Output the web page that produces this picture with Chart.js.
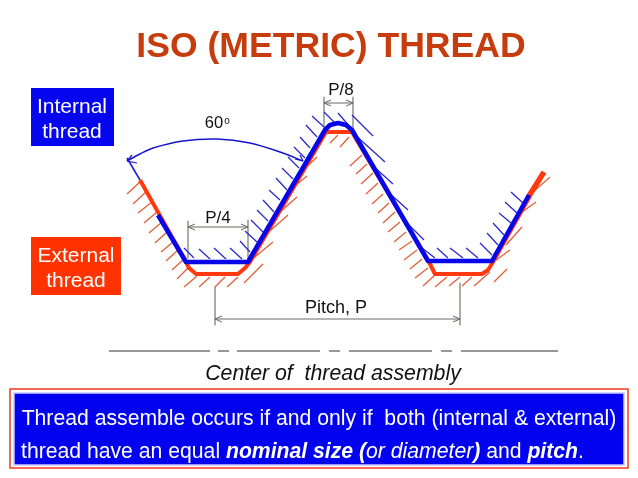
<!DOCTYPE html>
<html><head><meta charset="utf-8">
<style>html,body{margin:0;padding:0;background:#fff}canvas{display:block}</style>
<script src="https://cdn.jsdelivr.net/npm/chart.js@4"></script>
</head><body><canvas id="c" width="638" height="478"></canvas>
<script>
const titleText = "ISO (METRIC) THREAD";
const internalProfile = [[158,215],[186,262],[248,262],[325,130],[330,125],[338,123],[346,125],[352,130],[428,261],[492,261],[529,195]];
const externalProfile = [[140,180],[186,262],[189,268],[196,274],[238,274],[245,268],[250,262],[326,132],[352,132],[429,262],[435,274],[482,274],[488,270],[493,262],[530,196]];
const externalTip = [[529,196],[544,172]];
const leadLine = [[127,158],[140,180]];
const angleArc = [[127,161],[140,154],[153,148],[183,141],[217,139],[250,143],[280,152],[303,161]];
const angleArrows = [[137,163,127,161],[132,155,127,161],[295,159,303,161],[300,155,303,161]];
const internalHatches = [
 [184,248,194,258],[199,249,210,259],[214,248,226,259],[230,248,242,259],
 [240,241,250,252],[245,231,257,242],[251,220,263,232],[257,210,268,221],[263,200,274,212],[269,190,280,200],[276,178,287,190],[282,168,293,179],[288,157,299,168],[294,147,305,158],[300,137,310,148],[306,125,317,137],[312,116,324,127],
 [324,112,335,123],[338,113,350,127],[352,115,373,136],[353,133,385,162],[372,165,393,184],[388,192,408,210],[407,223,424,240],[422,248,435,258],
 [437,248,448,258],[450,248,463,258],[466,248,478,258],[480,243,492,255],[487,233,498,245],[493,223,504,235],[499,213,511,223],[505,202,517,213],[511,192,523,203]
];
const externalHatches = [
 [127,194,141,181],[133,204,146,192],[138,213,152,202],[144,223,157,212],[149,233,162,222],[155,243,167,232],[161,252,173,242],[166,261,178,250],[172,270,184,259],[177,279,188,268],
 [184,287,197,276],[199,287,210,277],[215,287,225,277],[227,287,238,277],
 [244,283,263,264],[250,261,273,242],[263,237,288,215],[280,212,297,197],[290,190,307,176],[300,173,317,157],
 [330,143,338,135],[340,147,349,137],
 [350,166,362,155],[356,174,367,164],[361,184,373,173],[366,194,378,183],[372,204,383,194],[378,213,389,203],[383,223,395,212],[388,232,400,222],[394,242,406,232],[399,250,412,241],[404,260,417,250],[410,269,422,259],[415,278,428,268],[423,286,435,275],
 [435,287,447,277],[449,286,460,277],[462,286,472,277],[474,286,490,272],[494,282,507,269],[492,263,510,250],[506,245,522,227],[518,215,536,202],[532,193,550,177]
];
const dimensionLines = [
 [188,221,188,258],[248,220,248,258],[188,227,248,227],
 [324,97,324,130],[353,97,353,130],[324,103,353,103],
 [215,287,215,325],[460,283,460,325],[215,319,460,319]
];
const dimensionArrows = [
 [195,224,188,227],[195,230,188,227],[241,224,248,227],[241,230,248,227],
 [331,100,324,103],[331,106,324,103],[346,100,353,103],[346,106,353,103],
 [222,316,215,319],[222,322,215,319],[453,316,460,319],[453,322,460,319]
];
const centerLineSegments = [[109,351,210,351],[218,351,229,351],[237,351,320,351],[329,351,340,351],[349,351,432,351],[441,351,452,351],[461,351,558,351]];
const boxes = [
 {x0:10,y0:389,x1:628,y1:468,fill:"#ffffff",stroke:"#f03a20"},
 {x0:14,y0:393,x1:624,y1:465,fill:"#0202ee",stroke:"#c8c8ff"},
 {x0:31,y0:88,x1:114,y1:146,fill:"#0505f0"},
 {x0:31,y0:237,x1:121,y1:295,fill:"#ff3300"}
];
const labels = [
 {t:titleText,x:331,y:47,f:"bold 35.6px 'Liberation Sans'",c:"#c63c0c"},
 {t:"Internal",x:72,y:107,f:"21px 'Liberation Sans'",c:"#fff"},
 {t:"thread",x:72,y:132,f:"21px 'Liberation Sans'",c:"#fff"},
 {t:"External",x:76,y:256,f:"21px 'Liberation Sans'",c:"#fff"},
 {t:"thread",x:76,y:281,f:"21px 'Liberation Sans'",c:"#fff"},
 {t:"P/8",x:341,y:90,f:"17px 'Liberation Sans'",c:"#111"},
 {t:"60",x:214,y:123,f:"16.5px 'Liberation Sans'",c:"#111"},
 {t:"o",x:227,y:121,f:"10px 'Liberation Sans'",c:"#111"},
 {t:"P/4",x:218,y:218,f:"17px 'Liberation Sans'",c:"#111"},
 {t:"Pitch, P",x:336,y:308,f:"18px 'Liberation Sans'",c:"#111"},
 {t:"Center of  thread assembly",x:333,y:374,f:"italic 21.3px 'Liberation Sans'",c:"#111"},
 {t:"Thread assemble occurs if and only if  both (internal & external)",x:319,y:419,f:"21.2px 'Liberation Sans'",c:"#fff"}
];
const noteRuns = [
 ["thread have an equal ","21.2px"],["nominal size (","italic bold 21.2px"],["or diameter","italic 21.2px"],[")","italic bold 21.2px"],
 [" and ","21.2px"],["pitch","italic bold 21.2px"],[".","21.2px"]
];
const pts = a => a.map(p => ({x:p[0],y:p[1]}));
const segs = a => a.flatMap(s => [{x:s[0],y:s[1]},{x:s[2],y:s[3]},{x:null,y:null}]);
const line = (label,data,color,width,extra) => Object.assign({label,data,borderColor:color,borderWidth:width,pointRadius:0,spanGaps:false,fill:false,tension:0,borderJoinStyle:"round",borderCapStyle:"butt"},extra||{});
const drawExtras = {
 id:"drawExtras",
 beforeDatasetsDraw(ch){
  const {ctx,scales:{x,y}} = ch; ctx.save();
  boxes.forEach(b=>{
   const X=x.getPixelForValue(b.x0),Y=y.getPixelForValue(b.y0),W=x.getPixelForValue(b.x1)-X,H=y.getPixelForValue(b.y1)-Y;
   ctx.fillStyle=b.fill; ctx.fillRect(X,Y,W,H);
   if(b.stroke){ctx.strokeStyle=b.stroke;ctx.lineWidth=1.5;ctx.strokeRect(X,Y,W,H);}
  });
  ctx.restore();
 },
 afterDatasetsDraw(ch){
  const {ctx,scales:{x,y}} = ch; ctx.save();
  ctx.textAlign="center"; ctx.textBaseline="middle";
  labels.forEach(l=>{ctx.font=l.f;ctx.fillStyle=l.c;ctx.fillText(l.t,x.getPixelForValue(l.x),y.getPixelForValue(l.y));});
  ctx.textAlign="left"; ctx.fillStyle="#fff";
  let px=x.getPixelForValue(21); const py=y.getPixelForValue(452);
  noteRuns.forEach(r=>{ctx.font=r[1]+" 'Liberation Sans'";ctx.fillText(r[0],px,py);px+=ctx.measureText(r[0]).width;});
  ctx.restore();
 }
};
new Chart(document.getElementById("c"),{
 type:"line",
 data:{datasets:[
  line("Internal thread",pts(internalProfile),"#0606e8",4.6),
  line("External thread",pts(externalProfile),"#ff3a10",4),
  line("External tip",pts(externalTip),"#ff3a10",5.5),
  line("Lead line",pts(leadLine),"#1818d8",1.5),
  line("Angle arc",pts(angleArc),"#1515d0",1.5,{tension:0.3}),
  line("Angle arrows",segs(angleArrows),"#1515d0",1.2),
  line("Internal hatching",segs(internalHatches),"#2a2ac8",1.3),
  line("External hatching",segs(externalHatches),"#e0603c",1.3),
  line("Dimensions",segs(dimensionLines),"#6c6860",1.1),
  line("Dimension arrows",segs(dimensionArrows),"#6c6860",1),
  line("Center line",segs(centerLineSegments),"#777777",1.3)
 ]},
 options:{
  responsive:false,animation:false,devicePixelRatio:1,
  layout:{padding:0},
  scales:{x:{type:"linear",min:0,max:638,display:false},y:{type:"linear",min:0,max:478,reverse:true,display:false}},
  plugins:{legend:{display:false},tooltip:{enabled:false},title:{display:false}}
 },
 plugins:[drawExtras]
});
</script></body></html>
